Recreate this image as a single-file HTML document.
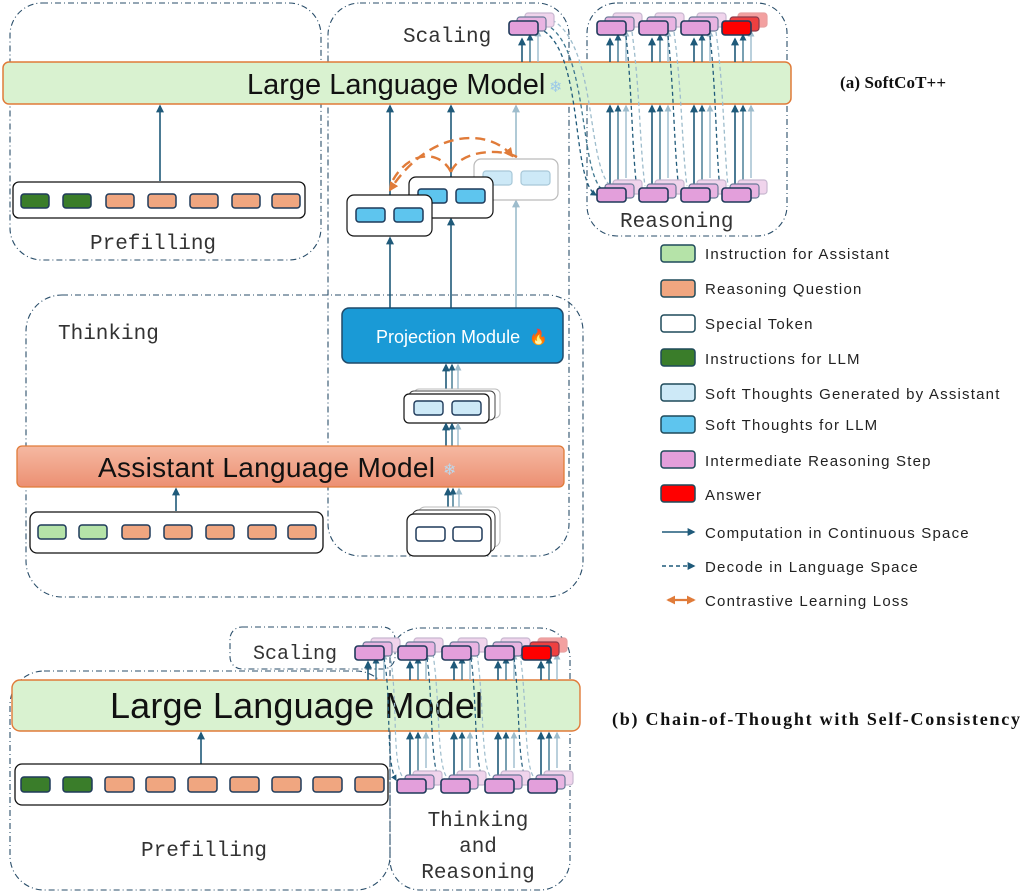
<!DOCTYPE html>
<html><head><meta charset="utf-8"><style>
html,body{margin:0;padding:0;background:#fff;}
svg{display:block;}
.mono{font-family:"Liberation Mono",monospace;fill:#333;}
.sans{font-family:"Liberation Sans","DejaVu Sans",sans-serif;}
.leg{font-family:"Liberation Sans",sans-serif;font-size:15px;letter-spacing:1.2px;fill:#222;}
</style></head><body>
<svg width="1024" height="895" viewBox="0 0 1024 895" xmlns="http://www.w3.org/2000/svg">
<defs>
<marker id="ad" viewBox="0 0 10 10" refX="8" refY="5" markerWidth="5" markerHeight="5" orient="auto"><path d="M0,0L10,5L0,10z" fill="#1f5a7a"/></marker>
<marker id="al" viewBox="0 0 10 10" refX="8" refY="5" markerWidth="5" markerHeight="5" orient="auto"><path d="M0,0L10,5L0,10z" fill="#9dbccc"/></marker>
<marker id="ao" viewBox="0 0 10 10" refX="8" refY="5" markerWidth="4" markerHeight="4" orient="auto"><path d="M0,0L10,5L0,10z" fill="#e07b39"/></marker>
<marker id="aos" viewBox="0 0 10 10" refX="2" refY="5" markerWidth="4" markerHeight="4" orient="auto"><path d="M10,0L0,5L10,10z" fill="#e07b39"/></marker>
<g id="pk">
<rect x="16" y="-8" width="29" height="14" rx="3" fill="#f0d4ec" stroke="#c8b8d0" stroke-width="1.2"/>
<rect x="8" y="-4" width="29" height="14" rx="3" fill="#e9b4e2" stroke="#6a7a98" stroke-width="1.2"/>
<rect x="0" y="0" width="29" height="14" rx="3" fill="#e39fdb" stroke="#1f3a5a" stroke-width="1.6"/>
</g>
<g id="rd">
<rect x="16" y="-8" width="29" height="14" rx="3" fill="#f3a0a0" stroke="#e8a0a0" stroke-width="1.2"/>
<rect x="8" y="-4" width="29" height="14" rx="3" fill="#ee4040" stroke="#8a3a4a" stroke-width="1.2"/>
<rect x="0" y="0" width="29" height="14" rx="3" fill="#ff0000" stroke="#1f3a5a" stroke-width="1.6"/>
</g>
<g id="c80">
<line x1="13" y1="0" x2="13" y2="-80" stroke="#1f5a7a" stroke-width="1.6" marker-end="url(#ad)"/>
<line x1="21" y1="-4" x2="21" y2="-80" stroke="#3f7890" stroke-width="1.4" marker-end="url(#ad)"/>
<line x1="29" y1="-8" x2="29" y2="-80" stroke="#9dbccc" stroke-width="1.4" marker-end="url(#al)"/>
</g>
<g id="c24">
<line x1="13" y1="0" x2="13" y2="-23" stroke="#1f5a7a" stroke-width="1.6" marker-end="url(#ad)"/>
<line x1="21" y1="0" x2="21" y2="-27" stroke="#3f7890" stroke-width="1.4" marker-end="url(#ad)"/>
<line x1="29" y1="0" x2="29" y2="-31" stroke="#9dbccc" stroke-width="1.4" marker-end="url(#al)"/>
</g>
<g id="c45">
<line x1="13" y1="0" x2="13" y2="-43" stroke="#1f5a7a" stroke-width="1.6" marker-end="url(#ad)"/>
<line x1="21" y1="-4" x2="21" y2="-43" stroke="#3f7890" stroke-width="1.4" marker-end="url(#ad)"/>
<line x1="29" y1="-8" x2="29" y2="-43" stroke="#9dbccc" stroke-width="1.4" marker-end="url(#al)"/>
</g>
<g id="c19">
<line x1="13" y1="0" x2="13" y2="-18" stroke="#1f5a7a" stroke-width="1.6" marker-end="url(#ad)"/>
<line x1="21" y1="0" x2="21" y2="-22" stroke="#3f7890" stroke-width="1.4" marker-end="url(#ad)"/>
<line x1="29" y1="0" x2="29" y2="-26" stroke="#9dbccc" stroke-width="1.4" marker-end="url(#al)"/>
</g>
</defs>

<rect x="10" y="3" width="311" height="257" rx="32" fill="none" stroke="#2a4e6a" stroke-width="1.1" stroke-dasharray="6,3,1,3"/>
<rect x="328" y="3" width="241" height="553" rx="32" fill="none" stroke="#2a4e6a" stroke-width="1.1" stroke-dasharray="6,3,1,3"/>
<rect x="26" y="295" width="557" height="302" rx="36" fill="none" stroke="#2a4e6a" stroke-width="1.1" stroke-dasharray="6,3,1,3"/>
<rect x="587" y="3" width="200" height="233" rx="30" fill="none" stroke="#2a4e6a" stroke-width="1.1" stroke-dasharray="6,3,1,3"/>

<text x="403" y="42" class="mono" font-size="21">Scaling</text>
<text x="90" y="249" class="mono" font-size="21">Prefilling</text>
<text x="58" y="339" class="mono" font-size="21">Thinking</text>
<text x="620" y="227" class="mono" font-size="21">Reasoning</text>

<rect x="3" y="62" width="788" height="42" rx="6" fill="#d9f2d0" stroke="#e07b39" stroke-width="1.5"/>
<text x="247" y="94" class="sans" font-size="29" fill="#111">Large Language Model</text>
<text x="549" y="92" font-size="16" fill="#9cc9e8" class="sans">❄</text>

<line x1="160" y1="181" x2="160" y2="106" stroke="#1f5a7a" stroke-width="1.6" marker-end="url(#ad)"/>
<rect x="13" y="182" width="292" height="36" rx="6" fill="#fff" stroke="#111" stroke-width="1.3"/>
<g stroke="#1f3a5a" stroke-width="1.5">
<rect x="21" y="194" width="28" height="14" rx="3" fill="#3a7d2a"/>
<rect x="63" y="194" width="28" height="14" rx="3" fill="#3a7d2a"/>
<rect x="106" y="194" width="28" height="14" rx="3" fill="#f0a680"/>
<rect x="148" y="194" width="28" height="14" rx="3" fill="#f0a680"/>
<rect x="190" y="194" width="28" height="14" rx="3" fill="#f0a680"/>
<rect x="232" y="194" width="28" height="14" rx="3" fill="#f0a680"/>
<rect x="272" y="194" width="28" height="14" rx="3" fill="#f0a680"/>
</g>

<line x1="390" y1="195" x2="390" y2="106" stroke="#1f5a7a" stroke-width="1.6" marker-end="url(#ad)"/>
<line x1="451" y1="177" x2="451" y2="106" stroke="#1f5a7a" stroke-width="1.6" marker-end="url(#ad)"/>
<line x1="516" y1="158" x2="516" y2="106" stroke="#9dbccc" stroke-width="1.6" marker-end="url(#al)"/>
<line x1="390" y1="308" x2="390" y2="238" stroke="#1f5a7a" stroke-width="1.6" marker-end="url(#ad)"/>
<line x1="451" y1="308" x2="451" y2="219" stroke="#1f5a7a" stroke-width="1.6" marker-end="url(#ad)"/>
<line x1="516" y1="308" x2="516" y2="201" stroke="#9dbccc" stroke-width="1.6" marker-end="url(#al)"/>

<rect x="474" y="159" width="84" height="41" rx="7" fill="#fff" stroke="#bbb" stroke-width="1.2"/>
<rect x="483" y="171" width="29" height="14" rx="3" fill="#cde9f7" stroke="#a8c8d8" stroke-width="1.2"/>
<rect x="521" y="171" width="29" height="14" rx="3" fill="#cde9f7" stroke="#a8c8d8" stroke-width="1.2"/>
<rect x="409" y="177" width="84" height="41" rx="7" fill="#fff" stroke="#111" stroke-width="1.2"/>
<rect x="418" y="189" width="29" height="14" rx="3" fill="#5ec5ee" stroke="#1f3a5a" stroke-width="1.5"/>
<rect x="456" y="189" width="29" height="14" rx="3" fill="#5ec5ee" stroke="#1f3a5a" stroke-width="1.5"/>
<rect x="347" y="195" width="85" height="41" rx="7" fill="#fff" stroke="#111" stroke-width="1.2"/>
<rect x="356" y="208" width="29" height="14" rx="3" fill="#5ec5ee" stroke="#1f3a5a" stroke-width="1.5"/>
<rect x="394" y="208" width="29" height="14" rx="3" fill="#5ec5ee" stroke="#1f3a5a" stroke-width="1.5"/>
<path d="M512,156 C490,128 430,128 390,190" fill="none" stroke="#e07b39" stroke-width="2.4" stroke-dasharray="10,6" marker-start="url(#aos)" marker-end="url(#ao)"/>
<path d="M451,172 C440,150 410,150 393,180" fill="none" stroke="#e07b39" stroke-width="2.4" stroke-dasharray="10,6"/>
<path d="M451,172 C460,150 500,148 517,157" fill="none" stroke="#e07b39" stroke-width="2.4" stroke-dasharray="10,6"/>

<rect x="342" y="308" width="221" height="55" rx="7" fill="#1a9ad6" stroke="#1f4a6a" stroke-width="1.5"/>
<text x="376" y="343" class="sans" font-size="18" fill="#fff">Projection Module</text>
<text x="529" y="342" font-size="15" fill="#f07a20" class="sans">🔥</text>

<line x1="446" y1="393" x2="446" y2="365" stroke="#1f5a7a" stroke-width="1.6" marker-end="url(#ad)"/>
<line x1="452" y1="393" x2="452" y2="365" stroke="#3f7890" stroke-width="1.4" marker-end="url(#ad)"/>
<line x1="458" y1="393" x2="458" y2="365" stroke="#9dbccc" stroke-width="1.4" marker-end="url(#al)"/>
<rect x="414" y="389" width="86" height="29" rx="5" fill="#fff" stroke="#bbb"/>
<rect x="409" y="391" width="86" height="29" rx="5" fill="#fff" stroke="#444"/>
<rect x="404" y="394" width="85" height="29" rx="5" fill="#fff" stroke="#111" stroke-width="1.2"/>
<rect x="414" y="401" width="29" height="14" rx="3" fill="#cde9f7" stroke="#1f3a5a" stroke-width="1.4"/>
<rect x="452" y="401" width="29" height="14" rx="3" fill="#cde9f7" stroke="#1f3a5a" stroke-width="1.4"/>
<line x1="446" y1="446" x2="446" y2="424" stroke="#1f5a7a" stroke-width="1.6" marker-end="url(#ad)"/>
<line x1="452" y1="446" x2="452" y2="424" stroke="#3f7890" stroke-width="1.4" marker-end="url(#ad)"/>
<line x1="458" y1="446" x2="458" y2="424" stroke="#9dbccc" stroke-width="1.4" marker-end="url(#al)"/>

<defs><linearGradient id="sg" x1="0" y1="0" x2="0" y2="1"><stop offset="0" stop-color="#f5b9a2"/><stop offset="1" stop-color="#ec8f72"/></linearGradient></defs>
<rect x="17" y="446" width="547" height="41" rx="5" fill="url(#sg)" stroke="#e07b39" stroke-width="1.3"/>
<text x="98" y="477" class="sans" font-size="28" fill="#111" textLength="337">Assistant Language Model</text>
<text x="443" y="475" font-size="16" fill="#bcd8ec" class="sans">❄</text>

<line x1="176" y1="511" x2="176" y2="489" stroke="#1f5a7a" stroke-width="1.6" marker-end="url(#ad)"/>
<rect x="30" y="512" width="293" height="41" rx="7" fill="#fff" stroke="#111" stroke-width="1.3"/>
<g stroke="#1f3a5a" stroke-width="1.5">
<rect x="38" y="525" width="28" height="14" rx="3" fill="#b5e3a8"/>
<rect x="79" y="525" width="28" height="14" rx="3" fill="#b5e3a8"/>
<rect x="122" y="525" width="28" height="14" rx="3" fill="#f0a680"/>
<rect x="164" y="525" width="28" height="14" rx="3" fill="#f0a680"/>
<rect x="206" y="525" width="28" height="14" rx="3" fill="#f0a680"/>
<rect x="248" y="525" width="28" height="14" rx="3" fill="#f0a680"/>
<rect x="288" y="525" width="28" height="14" rx="3" fill="#f0a680"/>
</g>

<line x1="448" y1="514" x2="448" y2="489" stroke="#1f5a7a" stroke-width="1.6" marker-end="url(#ad)"/>
<line x1="453" y1="514" x2="453" y2="489" stroke="#3f7890" stroke-width="1.4" marker-end="url(#ad)"/>
<line x1="459" y1="514" x2="459" y2="489" stroke="#9dbccc" stroke-width="1.4" marker-end="url(#al)"/>
<rect x="418" y="507" width="82" height="40" rx="7" fill="#fff" stroke="#bbb"/>
<rect x="412" y="510" width="83" height="42" rx="7" fill="#fff" stroke="#333"/>
<rect x="407" y="514" width="84" height="42" rx="7" fill="#fff" stroke="#111" stroke-width="1.2"/>
<rect x="416" y="527" width="29" height="14" rx="3" fill="#fff" stroke="#1f3a5a" stroke-width="1.5"/>
<rect x="453" y="527" width="29" height="14" rx="3" fill="#fff" stroke="#1f3a5a" stroke-width="1.5"/>

<g transform="translate(509,62)"><use href="#c24"/></g>
<g stroke="#1f5a7a" stroke-width="1.3" stroke-dasharray="4,3" fill="none">
<path d="M538,28 C585,45 570,180 596,195" marker-end="url(#ad)"/>
<path d="M545,24 C590,45 578,175 604,191" stroke="#3f7890"/>
<path d="M552,20 C598,45 586,170 612,187" stroke="#9dbccc"/>
</g>
<g transform="translate(597,186)"><use href="#c80"/></g>
<g transform="translate(639,186)"><use href="#c80"/></g>
<g transform="translate(681,186)"><use href="#c80"/></g>
<g transform="translate(722,186)"><use href="#c80"/></g>
<g transform="translate(597,62)"><use href="#c24"/></g>
<g transform="translate(639,62)"><use href="#c24"/></g>
<g transform="translate(681,62)"><use href="#c24"/></g>
<g transform="translate(722,62)"><use href="#c24"/></g>
<g stroke-width="1.3" stroke-dasharray="4,3" fill="none">
<path d="M626,36 C632,90 632,150 637,190" stroke="#1f5a7a" marker-end="url(#ad)"/>
<path d="M632,32 C640,90 640,150 645,186" stroke="#9dbccc"/>
<path d="M668,36 C674,90 674,150 679,190" stroke="#1f5a7a" marker-end="url(#ad)"/>
<path d="M674,32 C682,90 682,150 687,186" stroke="#9dbccc"/>
<path d="M710,36 C716,90 716,150 720,190" stroke="#1f5a7a" marker-end="url(#ad)"/>
<path d="M716,32 C724,90 724,150 728,186" stroke="#9dbccc"/>
</g>
<use href="#pk" x="509" y="21"/>
<use href="#pk" x="597" y="21"/>
<use href="#pk" x="639" y="21"/>
<use href="#pk" x="681" y="21"/>
<use href="#rd" x="722" y="21"/>
<use href="#pk" x="597" y="188"/>
<use href="#pk" x="639" y="188"/>
<use href="#pk" x="681" y="188"/>
<use href="#pk" x="722" y="188"/>

<text x="840" y="88" font-family="Liberation Serif,serif" font-weight="bold" font-size="17" fill="#111" textLength="106">(a) SoftCoT++</text>

<g stroke-width="1.5" stroke="#1f4a5a">
<rect x="661" y="245" width="34" height="17" rx="3" fill="#b5e3a8"/>
<rect x="661" y="280" width="34" height="17" rx="3" fill="#f0a680"/>
<rect x="661" y="315" width="34" height="17" rx="3" fill="#fff"/>
<rect x="661" y="349" width="34" height="17" rx="3" fill="#3a7d2a"/>
<rect x="661" y="384" width="34" height="17" rx="3" fill="#cde9f7"/>
<rect x="661" y="416" width="34" height="17" rx="3" fill="#5ec5ee"/>
<rect x="661" y="451" width="34" height="17" rx="3" fill="#e39fdb"/>
<rect x="661" y="485" width="34" height="17" rx="3" fill="#ff0000"/>
</g>
<text x="705" y="259" class="leg">Instruction for Assistant</text>
<text x="705" y="294" class="leg">Reasoning Question</text>
<text x="705" y="329" class="leg">Special Token</text>
<text x="705" y="364" class="leg">Instructions for LLM</text>
<text x="705" y="399" class="leg">Soft Thoughts Generated by Assistant</text>
<text x="705" y="430" class="leg">Soft Thoughts for LLM</text>
<text x="705" y="466" class="leg">Intermediate Reasoning Step</text>
<text x="705" y="500" class="leg">Answer</text>
<line x1="662" y1="532" x2="694" y2="532" stroke="#1f5a7a" stroke-width="1.6" marker-end="url(#ad)"/>
<line x1="662" y1="566" x2="694" y2="566" stroke="#1f5a7a" stroke-width="1.6" stroke-dasharray="4,3" marker-end="url(#ad)"/>
<line x1="668" y1="600" x2="694" y2="600" stroke="#e07b39" stroke-width="2.2" marker-start="url(#aos)" marker-end="url(#ao)"/>
<text x="705" y="538" class="leg">Computation in Continuous Space</text>
<text x="705" y="572" class="leg">Decode in Language Space</text>
<text x="705" y="606" class="leg">Contrastive Learning Loss</text>

<rect x="230" y="627" width="165" height="42" rx="12" fill="none" stroke="#2a4e6a" stroke-width="1.1" stroke-dasharray="6,3,1,3"/>
<rect x="10" y="671" width="380" height="219" rx="34" fill="none" stroke="#2a4e6a" stroke-width="1.1" stroke-dasharray="6,3,1,3"/>
<rect x="390" y="628" width="180" height="262" rx="30" fill="none" stroke="#2a4e6a" stroke-width="1.1" stroke-dasharray="6,3,1,3"/>
<rect x="12" y="680" width="568" height="51" rx="8" fill="#d9f2d0" stroke="#e07b39" stroke-width="1.4"/>
<text x="110" y="718" class="sans" font-size="36" fill="#111" textLength="373">Large Language Model</text>
<text x="253" y="659" class="mono" font-size="20">Scaling</text>
<text x="141" y="856" class="mono" font-size="21">Prefilling</text>
<text x="478" y="826" class="mono" font-size="21" text-anchor="middle">Thinking</text>
<text x="478" y="852" class="mono" font-size="21" text-anchor="middle">and</text>
<text x="478" y="878" class="mono" font-size="21" text-anchor="middle">Reasoning</text>

<line x1="201" y1="764" x2="201" y2="733" stroke="#1f5a7a" stroke-width="1.6" marker-end="url(#ad)"/>
<rect x="15" y="764" width="373" height="41" rx="7" fill="#fff" stroke="#111" stroke-width="1.3"/>
<g stroke="#1f3a5a" stroke-width="1.5">
<rect x="21" y="777" width="29" height="15" rx="3" fill="#3a7d2a"/>
<rect x="63" y="777" width="29" height="15" rx="3" fill="#3a7d2a"/>
<rect x="105" y="777" width="29" height="15" rx="3" fill="#f0a680"/>
<rect x="146" y="777" width="29" height="15" rx="3" fill="#f0a680"/>
<rect x="188" y="777" width="29" height="15" rx="3" fill="#f0a680"/>
<rect x="230" y="777" width="29" height="15" rx="3" fill="#f0a680"/>
<rect x="272" y="777" width="29" height="15" rx="3" fill="#f0a680"/>
<rect x="313" y="777" width="29" height="15" rx="3" fill="#f0a680"/>
<rect x="355" y="777" width="29" height="15" rx="3" fill="#f0a680"/>
</g>

<g transform="translate(355,680)"><use href="#c19"/></g>
<g transform="translate(397,776)"><use href="#c45"/></g>
<g transform="translate(441,776)"><use href="#c45"/></g>
<g transform="translate(485,776)"><use href="#c45"/></g>
<g transform="translate(528,776)"><use href="#c45"/></g>
<g transform="translate(397,680)"><use href="#c19"/></g>
<g transform="translate(441,680)"><use href="#c19"/></g>
<g transform="translate(485,680)"><use href="#c19"/></g>
<g transform="translate(528,680)"><use href="#c19"/></g>
<g stroke-width="1.2" stroke-dasharray="4,3" fill="none">
<path d="M384,658 C392,700 385,760 396,780" stroke="#1f5a7a" marker-end="url(#ad)"/>
<path d="M390,654 C398,700 392,760 402,776" stroke="#9dbccc"/>
<path d="M427,658 C433,700 430,760 439,780" stroke="#1f5a7a" marker-end="url(#ad)"/>
<path d="M433,654 C440,700 437,760 446,776" stroke="#9dbccc"/>
<path d="M471,658 C477,700 474,760 483,780" stroke="#1f5a7a" marker-end="url(#ad)"/>
<path d="M477,654 C484,700 481,760 490,776" stroke="#9dbccc"/>
<path d="M514,658 C520,700 517,760 526,780" stroke="#1f5a7a" marker-end="url(#ad)"/>
<path d="M520,654 C527,700 524,760 533,776" stroke="#9dbccc"/>
</g>
<use href="#pk" x="355" y="646"/>
<use href="#pk" x="398" y="646"/>
<use href="#pk" x="442" y="646"/>
<use href="#pk" x="485" y="646"/>
<use href="#rd" x="522" y="646"/>
<use href="#pk" x="397" y="779"/>
<use href="#pk" x="441" y="779"/>
<use href="#pk" x="485" y="779"/>
<use href="#pk" x="528" y="779"/>

<text x="612" y="725" font-family="Liberation Serif,serif" font-weight="bold" font-size="18" fill="#111" textLength="408">(b) Chain-of-Thought with Self-Consistency</text>
</svg>
</body></html>
